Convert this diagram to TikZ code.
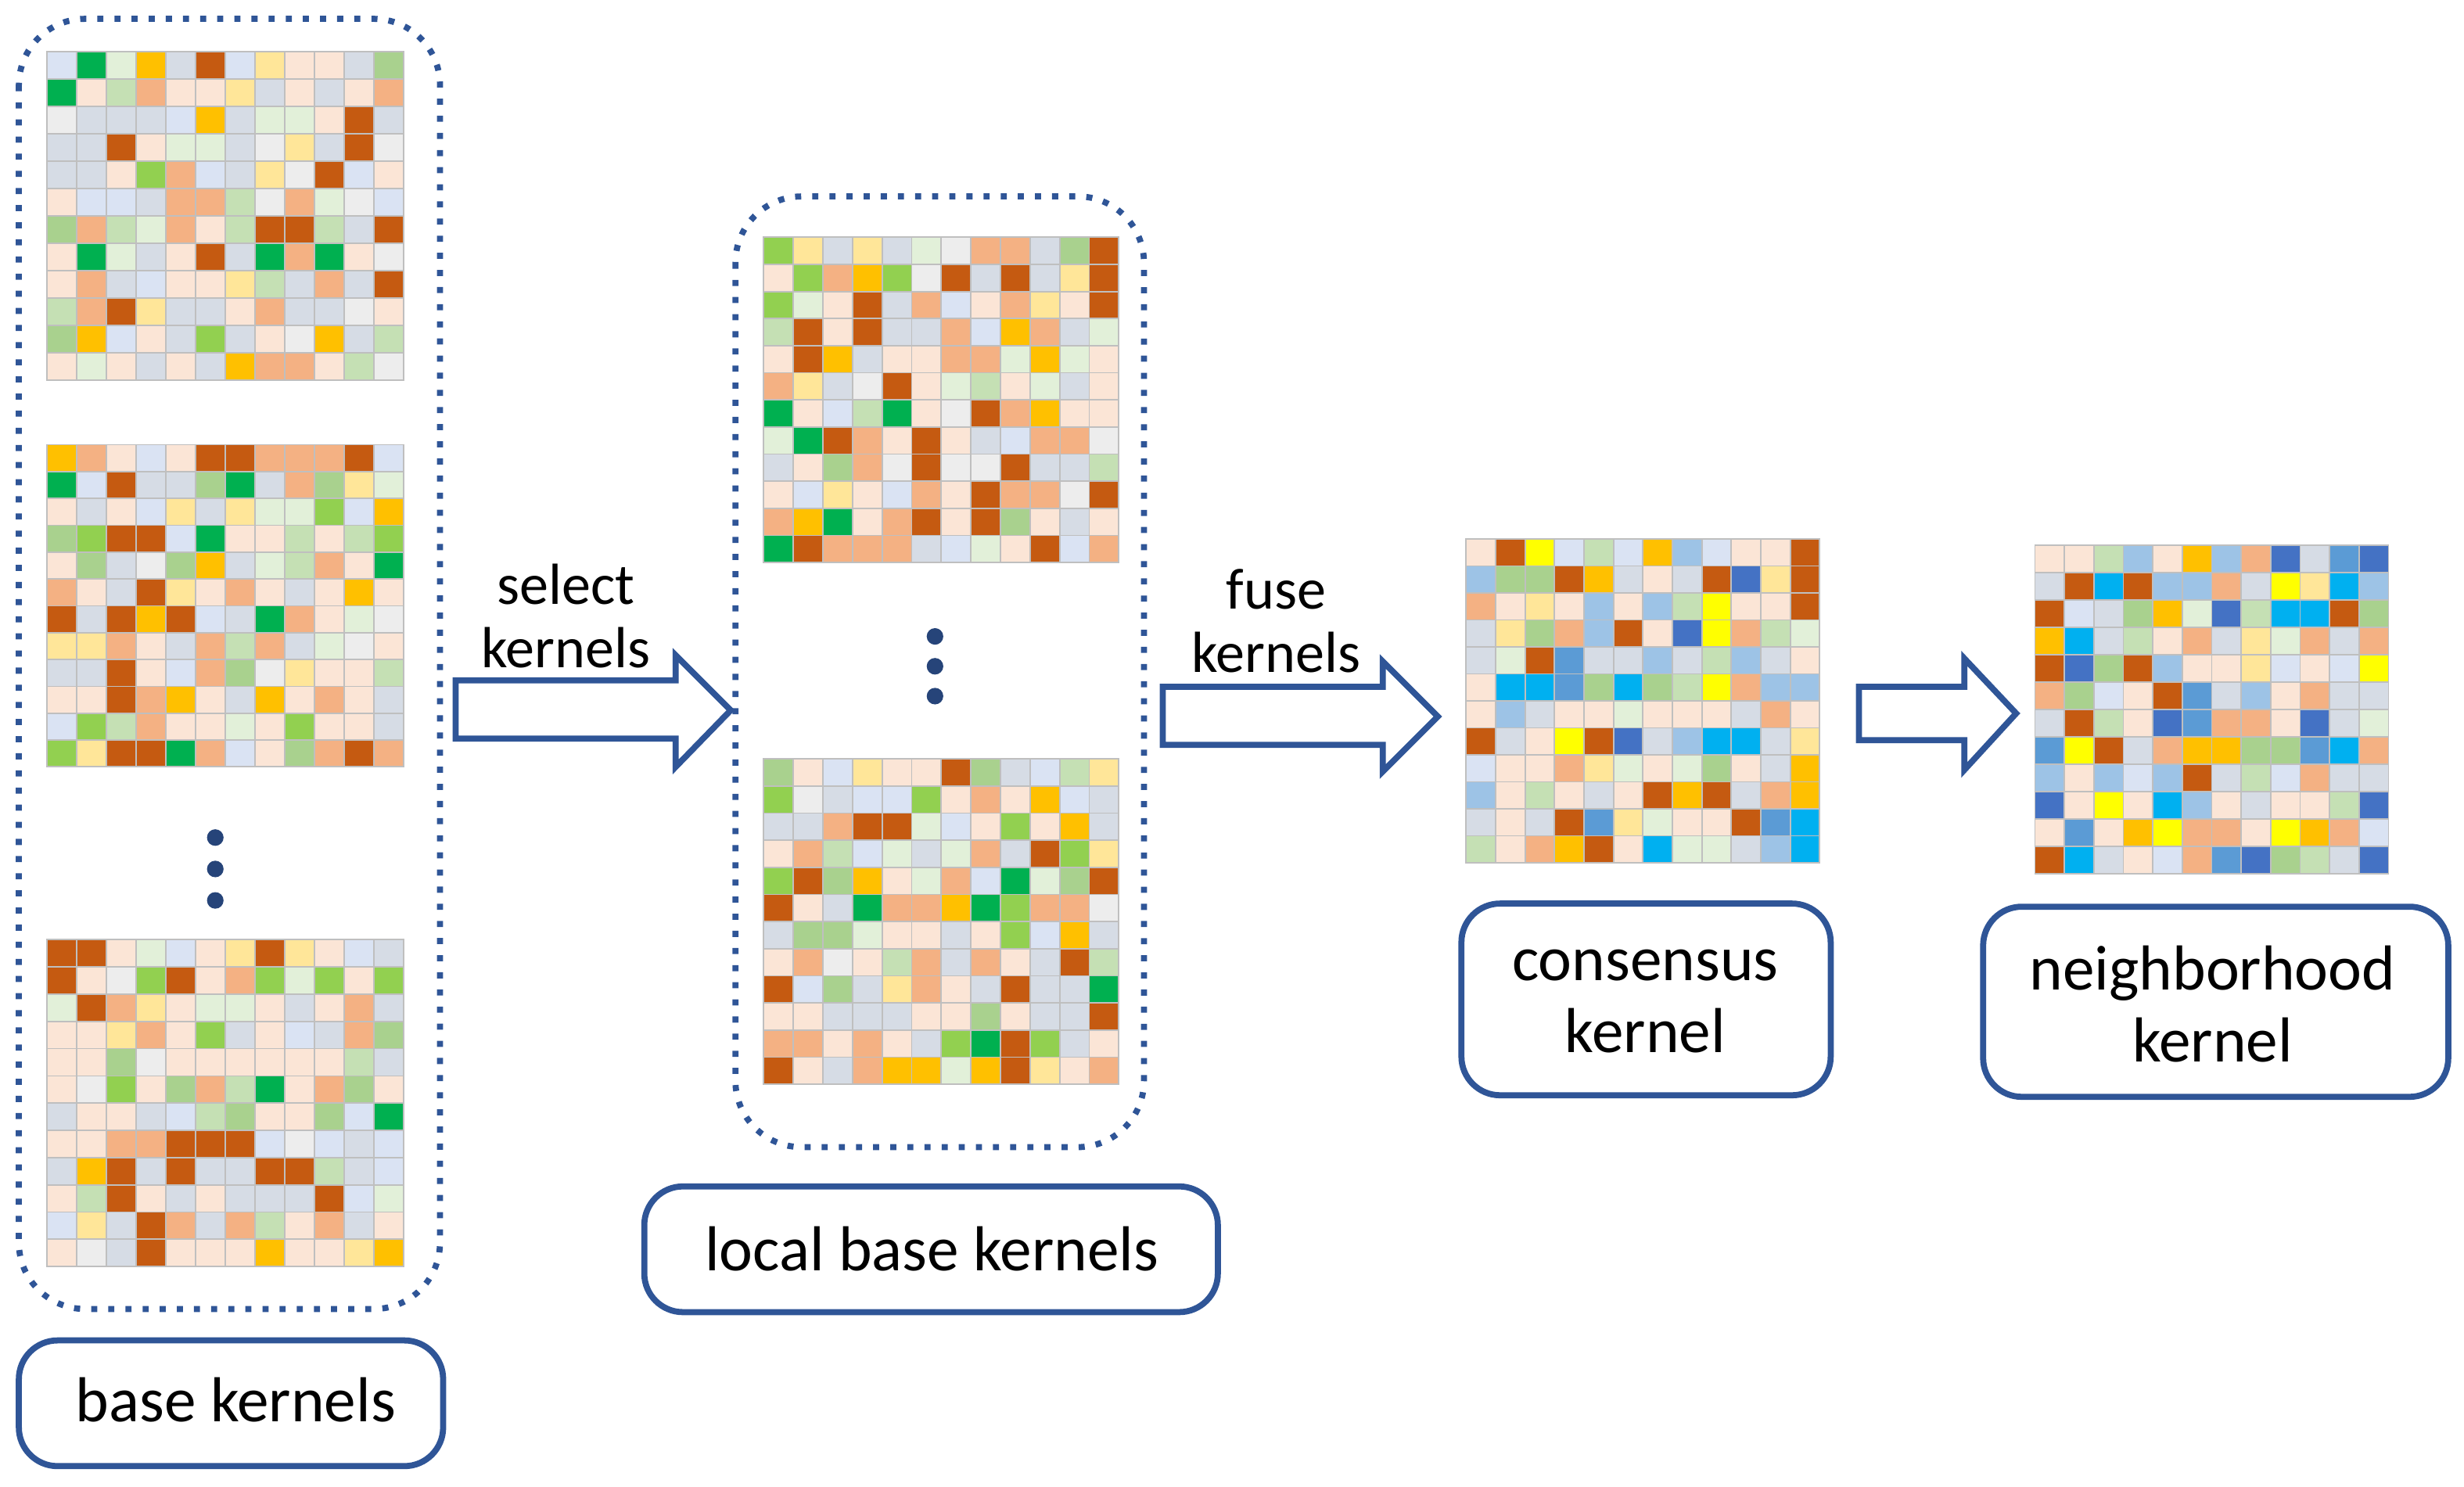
\documentclass[tikz,border=0pt]{standalone}
\usepackage{fontspec}
\setmainfont{Carlito}
\definecolor{bl}{HTML}{D6DCE5}
\definecolor{bl2}{HTML}{DAE3F3}
\definecolor{pe}{HTML}{FBE5D6}
\definecolor{ta}{HTML}{F4B183}
\definecolor{dor}{HTML}{C55A11}
\definecolor{go}{HTML}{FFC000}
\definecolor{ly}{HTML}{FFE699}
\definecolor{gr}{HTML}{00B050}
\definecolor{lg}{HTML}{A9D18E}
\definecolor{vg}{HTML}{C5E0B4}
\definecolor{eg}{HTML}{E2F0D9}
\definecolor{mg}{HTML}{92D050}
\definecolor{wh}{HTML}{EDEDED}
\definecolor{b1}{HTML}{5B9BD5}
\definecolor{b2}{HTML}{9DC3E6}
\definecolor{b3}{HTML}{00B0F0}
\definecolor{b4}{HTML}{4472C4}
\definecolor{ye}{HTML}{FFFF00}
\definecolor{gridc}{HTML}{BFBFBF}
\definecolor{frame}{HTML}{2F5597}
\pgfmathsetseed{11}
\pgfmathdeclarerandomlist{warm}{{bl}{bl}{bl}{bl2}{pe}{pe}{pe}{pe}{ta}{ta}{ta}{dor}{dor}{go}{ly}{gr}{lg}{vg}{eg}{mg}{wh}}
\pgfmathdeclarerandomlist{cool}{{bl}{bl}{bl}{bl2}{pe}{pe}{pe}{pe}{ta}{ta}{dor}{dor}{go}{ly}{lg}{vg}{eg}{b1}{b2}{b2}{b3}{b4}{ye}}
\newcommand\kmat[5]{%
 \foreach \i in {0,...,11}{\foreach \j in {0,...,11}{%
  \pgfmathrandomitem{\cc}{#5}%
  \filldraw[fill=\cc,draw=gridc,line width=0.25pt] ({#1+\i*#3/12},{#2+\j*#4/12}) rectangle ++({#3/12},{#4/12});}}}
\tikzset{
 dotbox/.style={draw=frame,line width=1.1pt,dotted,rounded corners=12pt},
 labbox/.style={draw=frame,line width=1.1pt,rounded corners=7pt},
 lab/.style={font=\fontsize{11.5}{13}\selectfont,align=center},
 alab/.style={font=\fontsize{10.5}{11.5}\selectfont,align=center},
 barrow/.style={draw=frame,line width=1.1pt,fill=white},
 vdot/.style={fill=frame!80!black,circle,inner sep=0pt,minimum size=3pt}
}
\begin{document}
\begin{tikzpicture}[x=0.01cm,y=-0.01cm]
\useasboundingbox (0,0) rectangle (1568,946);
% base kernels
\draw[dotbox] (12,12) rectangle (280,833);
\kmat{30}{33}{227}{209}{warm}
\kmat{30}{283}{227}{205}{warm}
\kmat{30}{598}{227}{208}{warm}
\foreach \k/\y in {a/533,b/553,c/573} \node[vdot] (d1\k) at (137,\y) {};
\draw[labbox] (12,853) rectangle (282,933);
\node[lab] (bk) at (150,891) {base kernels};
% select arrow
\draw[barrow] (290,433)--(430,433)--(430,417)--(465,452)--(430,488)--(430,470)--(290,470)--cycle;
\node[alab] (sel) at (360,392) {select\\kernels};
% local
\draw[dotbox] (468,125) rectangle (728,730);
\kmat{486}{151}{226}{207}{warm}
\kmat{486}{483}{226}{207}{warm}
\foreach \k/\y in {a/405,b/424,c/443} \node[vdot] (d2\k) at (595,\y) {};
\draw[labbox] (410,755) rectangle (775,835);
\node[lab] (lbk) at (593,795) {local base kernels};
% fuse arrow
\draw[barrow] (740,437)--(880,437)--(880,421)--(915,456)--(880,491)--(880,474)--(740,474)--cycle;
\node[alab] (fus) at (812,395) {fuse\\kernels};
% consensus
\kmat{933}{343}{225}{206}{cool}
\draw[labbox] (930,575) rectangle (1165,697);
\node[lab] (ck) at (1047,637) {consensus\\kernel};
% third arrow
\draw[barrow] (1183,437)--(1250,437)--(1250,419)--(1283,454)--(1250,490)--(1250,471)--(1183,471)--cycle;
% neighborhood
\kmat{1295}{347}{225}{209}{cool}
\draw[labbox] (1262,577) rectangle (1558,698);
\node[lab] (nk) at (1408,639) {neighborhood\\kernel};
\end{tikzpicture}
\end{document}
